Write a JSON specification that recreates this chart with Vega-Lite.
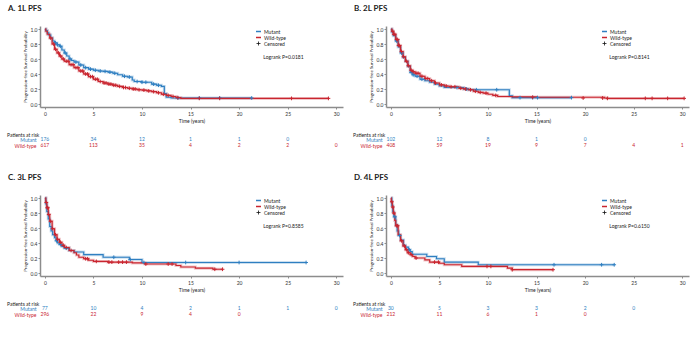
{
 "$schema": "https://vega.github.io/schema/vega-lite/v6.json",
 "padding": {"left": 7, "top": 5, "right": 5, "bottom": 5},
 "background": "white",
 "config": {
  "font": "Lato",
  "view": {"stroke": null},
  "axis": {"grid": false, "labelOverlap": false, "labelSeparation": -4, "domainColor": "#8c8c8c", "domainWidth": 1.5, "tickColor": "#8c8c8c", "tickSize": 2, "labelFontSize": 5, "labelColor": "#333333", "titleFontSize": 5, "titleFontWeight": "normal", "titleColor": "#222222"},
  "axisQuantitative": {"labelOverlap": false},
  "title": {"color": "#222222"},
  "legend": {"padding": 0}
 },
 "datasets": {
  "cA": [
   {"t":0,"s":1,"g":"Mutant"},{"t":0.1,"s":0.98,"g":"Mutant"},{"t":0.25,"s":0.95,"g":"Mutant"},{"t":0.4,"s":0.92,"g":"Mutant"},{"t":0.6,"s":0.88,"g":"Mutant"},{"t":0.8,"s":0.84,"g":"Mutant"},{"t":1.0,"s":0.815,"g":"Mutant"},{"t":1.25,"s":0.79,"g":"Mutant"},{"t":1.5,"s":0.77,"g":"Mutant"},{"t":1.75,"s":0.72,"g":"Mutant"},{"t":2.0,"s":0.68,"g":"Mutant"},{"t":2.25,"s":0.64,"g":"Mutant"},{"t":2.5,"s":0.6,"g":"Mutant"},{"t":2.75,"s":0.58,"g":"Mutant"},{"t":3.0,"s":0.56,"g":"Mutant"},{"t":3.5,"s":0.52,"g":"Mutant"},{"t":4.0,"s":0.485,"g":"Mutant"},{"t":4.5,"s":0.465,"g":"Mutant"},{"t":5.0,"s":0.45,"g":"Mutant"},{"t":5.5,"s":0.44,"g":"Mutant"},{"t":6.0,"s":0.435,"g":"Mutant"},{"t":6.5,"s":0.425,"g":"Mutant"},{"t":7.0,"s":0.41,"g":"Mutant"},{"t":7.5,"s":0.39,"g":"Mutant"},{"t":8.0,"s":0.37,"g":"Mutant"},{"t":8.5,"s":0.36,"g":"Mutant"},{"t":9.0,"s":0.32,"g":"Mutant"},{"t":9.2,"s":0.3,"g":"Mutant"},{"t":10.0,"s":0.29,"g":"Mutant"},{"t":11.0,"s":0.265,"g":"Mutant"},{"t":11.5,"s":0.25,"g":"Mutant"},{"t":12.0,"s":0.235,"g":"Mutant"},{"t":12.3,"s":0.14,"g":"Mutant"},{"t":12.5,"s":0.09,"g":"Mutant"},{"t":13.0,"s":0.08,"g":"Mutant"},{"t":21.3,"s":0.08,"g":"Mutant"},
   {"t":0,"s":1,"g":"Wild-type"},{"t":0.1,"s":0.97,"g":"Wild-type"},{"t":0.25,"s":0.93,"g":"Wild-type"},{"t":0.5,"s":0.88,"g":"Wild-type"},{"t":0.75,"s":0.8,"g":"Wild-type"},{"t":1.0,"s":0.73,"g":"Wild-type"},{"t":1.25,"s":0.68,"g":"Wild-type"},{"t":1.5,"s":0.64,"g":"Wild-type"},{"t":1.75,"s":0.6,"g":"Wild-type"},{"t":2.0,"s":0.57,"g":"Wild-type"},{"t":2.5,"s":0.525,"g":"Wild-type"},{"t":3.0,"s":0.485,"g":"Wild-type"},{"t":3.5,"s":0.44,"g":"Wild-type"},{"t":4.0,"s":0.4,"g":"Wild-type"},{"t":4.5,"s":0.365,"g":"Wild-type"},{"t":5.0,"s":0.33,"g":"Wild-type"},{"t":5.5,"s":0.3,"g":"Wild-type"},{"t":6.0,"s":0.28,"g":"Wild-type"},{"t":6.5,"s":0.265,"g":"Wild-type"},{"t":7.0,"s":0.25,"g":"Wild-type"},{"t":7.5,"s":0.235,"g":"Wild-type"},{"t":8.0,"s":0.22,"g":"Wild-type"},{"t":8.5,"s":0.21,"g":"Wild-type"},{"t":9.0,"s":0.2,"g":"Wild-type"},{"t":9.5,"s":0.19,"g":"Wild-type"},{"t":10.0,"s":0.185,"g":"Wild-type"},{"t":10.5,"s":0.175,"g":"Wild-type"},{"t":11.0,"s":0.165,"g":"Wild-type"},{"t":11.5,"s":0.15,"g":"Wild-type"},{"t":12.0,"s":0.13,"g":"Wild-type"},{"t":12.5,"s":0.115,"g":"Wild-type"},{"t":13.0,"s":0.1,"g":"Wild-type"},{"t":13.5,"s":0.085,"g":"Wild-type"},{"t":14.0,"s":0.075,"g":"Wild-type"},{"t":29.2,"s":0.075,"g":"Wild-type"}
  ],
  "xA": [
   {"t":1.1,"s":0.815,"g":"Mutant"},{"t":1.3,"s":0.79,"g":"Mutant"},{"t":1.6,"s":0.77,"g":"Mutant"},{"t":2.1,"s":0.68,"g":"Mutant"},{"t":2.6,"s":0.6,"g":"Mutant"},{"t":3.2,"s":0.56,"g":"Mutant"},{"t":3.7,"s":0.52,"g":"Mutant"},{"t":4.2,"s":0.485,"g":"Mutant"},{"t":4.7,"s":0.465,"g":"Mutant"},{"t":5.2,"s":0.45,"g":"Mutant"},{"t":5.7,"s":0.44,"g":"Mutant"},{"t":6.2,"s":0.435,"g":"Mutant"},{"t":6.7,"s":0.425,"g":"Mutant"},{"t":7.2,"s":0.41,"g":"Mutant"},{"t":8.2,"s":0.37,"g":"Mutant"},{"t":8.7,"s":0.36,"g":"Mutant"},{"t":9.5,"s":0.3,"g":"Mutant"},{"t":10.0,"s":0.29,"g":"Mutant"},{"t":10.4,"s":0.29,"g":"Mutant"},{"t":11.2,"s":0.265,"g":"Mutant"},{"t":11.7,"s":0.25,"g":"Mutant"},{"t":13.7,"s":0.08,"g":"Mutant"},{"t":15.9,"s":0.08,"g":"Mutant"},{"t":18.0,"s":0.08,"g":"Mutant"},{"t":21.3,"s":0.08,"g":"Mutant"},
   {"t":0.6,"s":0.88,"g":"Wild-type"},{"t":0.9,"s":0.8,"g":"Wild-type"},{"t":1.1,"s":0.73,"g":"Wild-type"},{"t":1.4,"s":0.68,"g":"Wild-type"},{"t":1.6,"s":0.64,"g":"Wild-type"},{"t":1.9,"s":0.6,"g":"Wild-type"},{"t":2.2,"s":0.57,"g":"Wild-type"},{"t":2.4,"s":0.57,"g":"Wild-type"},{"t":2.7,"s":0.525,"g":"Wild-type"},{"t":2.9,"s":0.525,"g":"Wild-type"},{"t":3.2,"s":0.485,"g":"Wild-type"},{"t":3.4,"s":0.485,"g":"Wild-type"},{"t":3.7,"s":0.44,"g":"Wild-type"},{"t":3.9,"s":0.44,"g":"Wild-type"},{"t":4.2,"s":0.4,"g":"Wild-type"},{"t":4.4,"s":0.4,"g":"Wild-type"},{"t":4.7,"s":0.365,"g":"Wild-type"},{"t":4.9,"s":0.365,"g":"Wild-type"},{"t":5.2,"s":0.33,"g":"Wild-type"},{"t":5.4,"s":0.33,"g":"Wild-type"},{"t":5.7,"s":0.3,"g":"Wild-type"},{"t":6.1,"s":0.28,"g":"Wild-type"},{"t":6.3,"s":0.28,"g":"Wild-type"},{"t":6.6,"s":0.265,"g":"Wild-type"},{"t":6.8,"s":0.265,"g":"Wild-type"},{"t":7.1,"s":0.25,"g":"Wild-type"},{"t":7.3,"s":0.25,"g":"Wild-type"},{"t":7.7,"s":0.235,"g":"Wild-type"},{"t":8.1,"s":0.22,"g":"Wild-type"},{"t":8.3,"s":0.22,"g":"Wild-type"},{"t":8.7,"s":0.21,"g":"Wild-type"},{"t":9.1,"s":0.2,"g":"Wild-type"},{"t":9.3,"s":0.2,"g":"Wild-type"},{"t":9.7,"s":0.19,"g":"Wild-type"},{"t":10.2,"s":0.185,"g":"Wild-type"},{"t":10.7,"s":0.175,"g":"Wild-type"},{"t":11.2,"s":0.165,"g":"Wild-type"},{"t":11.7,"s":0.15,"g":"Wild-type"},{"t":12.2,"s":0.13,"g":"Wild-type"},{"t":12.7,"s":0.115,"g":"Wild-type"},{"t":13.2,"s":0.1,"g":"Wild-type"},{"t":13.7,"s":0.085,"g":"Wild-type"},{"t":15.9,"s":0.075,"g":"Wild-type"},{"t":18.0,"s":0.075,"g":"Wild-type"},{"t":25.4,"s":0.075,"g":"Wild-type"},{"t":29.2,"s":0.075,"g":"Wild-type"}
  ],
  "rA": [
   {"t":0,"g":"Mutant","n":176},{"t":5,"g":"Mutant","n":34},{"t":10,"g":"Mutant","n":12},{"t":15,"g":"Mutant","n":1},{"t":20,"g":"Mutant","n":1},{"t":25,"g":"Mutant","n":0},
   {"t":0,"g":"Wild-type","n":617},{"t":5,"g":"Wild-type","n":113},{"t":10,"g":"Wild-type","n":35},{"t":15,"g":"Wild-type","n":4},{"t":20,"g":"Wild-type","n":2},{"t":25,"g":"Wild-type","n":2},{"t":30,"g":"Wild-type","n":0}
  ],
  "cB": [
   {"t":0,"s":1,"g":"Mutant"},{"t":0.1,"s":0.96,"g":"Mutant"},{"t":0.25,"s":0.91,"g":"Mutant"},{"t":0.5,"s":0.84,"g":"Mutant"},{"t":0.75,"s":0.76,"g":"Mutant"},{"t":1.0,"s":0.68,"g":"Mutant"},{"t":1.25,"s":0.62,"g":"Mutant"},{"t":1.5,"s":0.57,"g":"Mutant"},{"t":1.75,"s":0.5,"g":"Mutant"},{"t":2.0,"s":0.42,"g":"Mutant"},{"t":2.25,"s":0.39,"g":"Mutant"},{"t":2.5,"s":0.37,"g":"Mutant"},{"t":3.0,"s":0.33,"g":"Mutant"},{"t":3.5,"s":0.31,"g":"Mutant"},{"t":4.0,"s":0.29,"g":"Mutant"},{"t":4.5,"s":0.265,"g":"Mutant"},{"t":5.0,"s":0.24,"g":"Mutant"},{"t":5.5,"s":0.22,"g":"Mutant"},{"t":7.5,"s":0.2,"g":"Mutant"},{"t":8.0,"s":0.19,"g":"Mutant"},{"t":12.2,"s":0.11,"g":"Mutant"},{"t":12.5,"s":0.085,"g":"Mutant"},{"t":18.6,"s":0.085,"g":"Mutant"},
   {"t":0,"s":1,"g":"Wild-type"},{"t":0.1,"s":0.97,"g":"Wild-type"},{"t":0.25,"s":0.93,"g":"Wild-type"},{"t":0.5,"s":0.86,"g":"Wild-type"},{"t":0.75,"s":0.78,"g":"Wild-type"},{"t":1.0,"s":0.7,"g":"Wild-type"},{"t":1.25,"s":0.63,"g":"Wild-type"},{"t":1.5,"s":0.57,"g":"Wild-type"},{"t":1.75,"s":0.51,"g":"Wild-type"},{"t":2.0,"s":0.45,"g":"Wild-type"},{"t":2.25,"s":0.43,"g":"Wild-type"},{"t":2.5,"s":0.41,"g":"Wild-type"},{"t":3.0,"s":0.37,"g":"Wild-type"},{"t":3.5,"s":0.34,"g":"Wild-type"},{"t":4.0,"s":0.31,"g":"Wild-type"},{"t":4.5,"s":0.28,"g":"Wild-type"},{"t":5.0,"s":0.255,"g":"Wild-type"},{"t":5.5,"s":0.24,"g":"Wild-type"},{"t":6.0,"s":0.23,"g":"Wild-type"},{"t":7.0,"s":0.21,"g":"Wild-type"},{"t":7.5,"s":0.2,"g":"Wild-type"},{"t":8.0,"s":0.19,"g":"Wild-type"},{"t":8.5,"s":0.17,"g":"Wild-type"},{"t":9.0,"s":0.155,"g":"Wild-type"},{"t":9.5,"s":0.145,"g":"Wild-type"},{"t":10.0,"s":0.13,"g":"Wild-type"},{"t":10.5,"s":0.115,"g":"Wild-type"},{"t":11.0,"s":0.1,"g":"Wild-type"},{"t":12.5,"s":0.095,"g":"Wild-type"},{"t":15.0,"s":0.09,"g":"Wild-type"},{"t":22.0,"s":0.08,"g":"Wild-type"},{"t":22.3,"s":0.075,"g":"Wild-type"},{"t":30.2,"s":0.075,"g":"Wild-type"}
  ],
  "xB": [
   {"t":0.6,"s":0.84,"g":"Mutant"},{"t":1.1,"s":0.68,"g":"Mutant"},{"t":2.1,"s":0.42,"g":"Mutant"},{"t":2.3,"s":0.39,"g":"Mutant"},{"t":2.7,"s":0.37,"g":"Mutant"},{"t":3.2,"s":0.33,"g":"Mutant"},{"t":6.8,"s":0.22,"g":"Mutant"},{"t":7.8,"s":0.2,"g":"Mutant"},{"t":8.8,"s":0.19,"g":"Mutant"},{"t":10.9,"s":0.19,"g":"Mutant"},{"t":13.3,"s":0.085,"g":"Mutant"},{"t":14.6,"s":0.085,"g":"Mutant"},{"t":15.1,"s":0.085,"g":"Mutant"},{"t":18.6,"s":0.085,"g":"Mutant"},
   {"t":0.2,"s":0.97,"g":"Wild-type"},{"t":0.3,"s":0.93,"g":"Wild-type"},{"t":0.4,"s":0.93,"g":"Wild-type"},{"t":0.6,"s":0.86,"g":"Wild-type"},{"t":0.7,"s":0.86,"g":"Wild-type"},{"t":0.8,"s":0.78,"g":"Wild-type"},{"t":0.9,"s":0.78,"g":"Wild-type"},{"t":1.1,"s":0.7,"g":"Wild-type"},{"t":1.3,"s":0.63,"g":"Wild-type"},{"t":1.6,"s":0.57,"g":"Wild-type"},{"t":1.8,"s":0.51,"g":"Wild-type"},{"t":2.1,"s":0.45,"g":"Wild-type"},{"t":2.3,"s":0.43,"g":"Wild-type"},{"t":2.6,"s":0.41,"g":"Wild-type"},{"t":2.8,"s":0.41,"g":"Wild-type"},{"t":3.2,"s":0.37,"g":"Wild-type"},{"t":3.6,"s":0.34,"g":"Wild-type"},{"t":3.8,"s":0.34,"g":"Wild-type"},{"t":4.2,"s":0.31,"g":"Wild-type"},{"t":4.6,"s":0.28,"g":"Wild-type"},{"t":5.2,"s":0.255,"g":"Wild-type"},{"t":5.7,"s":0.24,"g":"Wild-type"},{"t":6.2,"s":0.23,"g":"Wild-type"},{"t":6.6,"s":0.23,"g":"Wild-type"},{"t":7.2,"s":0.21,"g":"Wild-type"},{"t":7.7,"s":0.2,"g":"Wild-type"},{"t":8.2,"s":0.19,"g":"Wild-type"},{"t":8.7,"s":0.17,"g":"Wild-type"},{"t":9.2,"s":0.155,"g":"Wild-type"},{"t":9.8,"s":0.145,"g":"Wild-type"},{"t":10.8,"s":0.115,"g":"Wild-type"},{"t":14.6,"s":0.09,"g":"Wild-type"},{"t":19.8,"s":0.08,"g":"Wild-type"},{"t":21.8,"s":0.08,"g":"Wild-type"},{"t":22.3,"s":0.075,"g":"Wild-type"},{"t":26.2,"s":0.075,"g":"Wild-type"},{"t":26.9,"s":0.075,"g":"Wild-type"},{"t":28.5,"s":0.075,"g":"Wild-type"},{"t":30.2,"s":0.075,"g":"Wild-type"}
  ],
  "rB": [
   {"t":0,"g":"Mutant","n":102},{"t":5,"g":"Mutant","n":12},{"t":10,"g":"Mutant","n":8},{"t":15,"g":"Mutant","n":1},{"t":20,"g":"Mutant","n":0},
   {"t":0,"g":"Wild-type","n":408},{"t":5,"g":"Wild-type","n":59},{"t":10,"g":"Wild-type","n":19},{"t":15,"g":"Wild-type","n":9},{"t":20,"g":"Wild-type","n":7},{"t":25,"g":"Wild-type","n":4},{"t":30,"g":"Wild-type","n":1}
  ],
  "cC": [
   {"t":0,"s":1,"g":"Mutant"},{"t":0.1,"s":0.92,"g":"Mutant"},{"t":0.2,"s":0.82,"g":"Mutant"},{"t":0.35,"s":0.72,"g":"Mutant"},{"t":0.5,"s":0.62,"g":"Mutant"},{"t":0.65,"s":0.56,"g":"Mutant"},{"t":0.8,"s":0.51,"g":"Mutant"},{"t":1.0,"s":0.47,"g":"Mutant"},{"t":1.15,"s":0.43,"g":"Mutant"},{"t":1.3,"s":0.4,"g":"Mutant"},{"t":1.5,"s":0.38,"g":"Mutant"},{"t":1.75,"s":0.355,"g":"Mutant"},{"t":2.0,"s":0.33,"g":"Mutant"},{"t":2.5,"s":0.3,"g":"Mutant"},{"t":3.0,"s":0.28,"g":"Mutant"},{"t":4.0,"s":0.245,"g":"Mutant"},{"t":6.0,"s":0.21,"g":"Mutant"},{"t":8.7,"s":0.18,"g":"Mutant"},{"t":10.0,"s":0.14,"g":"Mutant"},{"t":26.9,"s":0.14,"g":"Mutant"},
   {"t":0,"s":1,"g":"Wild-type"},{"t":0.1,"s":0.94,"g":"Wild-type"},{"t":0.2,"s":0.87,"g":"Wild-type"},{"t":0.35,"s":0.78,"g":"Wild-type"},{"t":0.5,"s":0.69,"g":"Wild-type"},{"t":0.75,"s":0.59,"g":"Wild-type"},{"t":1.0,"s":0.51,"g":"Wild-type"},{"t":1.25,"s":0.45,"g":"Wild-type"},{"t":1.5,"s":0.41,"g":"Wild-type"},{"t":1.75,"s":0.37,"g":"Wild-type"},{"t":2.0,"s":0.34,"g":"Wild-type"},{"t":2.5,"s":0.3,"g":"Wild-type"},{"t":3.0,"s":0.27,"g":"Wild-type"},{"t":3.25,"s":0.24,"g":"Wild-type"},{"t":3.5,"s":0.21,"g":"Wild-type"},{"t":4.0,"s":0.19,"g":"Wild-type"},{"t":4.5,"s":0.17,"g":"Wild-type"},{"t":5.0,"s":0.155,"g":"Wild-type"},{"t":6.5,"s":0.145,"g":"Wild-type"},{"t":9.0,"s":0.135,"g":"Wild-type"},{"t":10.3,"s":0.12,"g":"Wild-type"},{"t":13.5,"s":0.1,"g":"Wild-type"},{"t":14.0,"s":0.08,"g":"Wild-type"},{"t":15.5,"s":0.065,"g":"Wild-type"},{"t":17.3,"s":0.05,"g":"Wild-type"},{"t":18.3,"s":0.05,"g":"Wild-type"}
  ],
  "xC": [
   {"t":1.2,"s":0.43,"g":"Mutant"},{"t":1.6,"s":0.38,"g":"Mutant"},{"t":2.2,"s":0.33,"g":"Mutant"},{"t":7.1,"s":0.21,"g":"Mutant"},{"t":8.8,"s":0.18,"g":"Mutant"},{"t":10.2,"s":0.14,"g":"Mutant"},{"t":14.5,"s":0.14,"g":"Mutant"},{"t":20.0,"s":0.14,"g":"Mutant"},{"t":26.9,"s":0.14,"g":"Mutant"},
   {"t":0.15,"s":0.94,"g":"Wild-type"},{"t":0.25,"s":0.87,"g":"Wild-type"},{"t":0.3,"s":0.87,"g":"Wild-type"},{"t":0.4,"s":0.78,"g":"Wild-type"},{"t":0.6,"s":0.69,"g":"Wild-type"},{"t":0.8,"s":0.59,"g":"Wild-type"},{"t":1.1,"s":0.51,"g":"Wild-type"},{"t":1.3,"s":0.45,"g":"Wild-type"},{"t":1.6,"s":0.41,"g":"Wild-type"},{"t":1.9,"s":0.37,"g":"Wild-type"},{"t":2.2,"s":0.34,"g":"Wild-type"},{"t":2.7,"s":0.3,"g":"Wild-type"},{"t":4.2,"s":0.19,"g":"Wild-type"},{"t":4.4,"s":0.19,"g":"Wild-type"},{"t":5.3,"s":0.155,"g":"Wild-type"},{"t":6.6,"s":0.145,"g":"Wild-type"},{"t":6.9,"s":0.145,"g":"Wild-type"},{"t":7.6,"s":0.145,"g":"Wild-type"},{"t":8.0,"s":0.145,"g":"Wild-type"},{"t":8.4,"s":0.145,"g":"Wild-type"},{"t":10.4,"s":0.12,"g":"Wild-type"},{"t":12.7,"s":0.12,"g":"Wild-type"},{"t":13.1,"s":0.12,"g":"Wild-type"},{"t":17.5,"s":0.05,"g":"Wild-type"},{"t":18.3,"s":0.05,"g":"Wild-type"}
  ],
  "rC": [
   {"t":0,"g":"Mutant","n":77},{"t":5,"g":"Mutant","n":10},{"t":10,"g":"Mutant","n":4},{"t":15,"g":"Mutant","n":2},{"t":20,"g":"Mutant","n":1},{"t":25,"g":"Mutant","n":1},{"t":30,"g":"Mutant","n":0},
   {"t":0,"g":"Wild-type","n":296},{"t":5,"g":"Wild-type","n":22},{"t":10,"g":"Wild-type","n":9},{"t":15,"g":"Wild-type","n":4},{"t":20,"g":"Wild-type","n":0}
  ],
  "cD": [
   {"t":0,"s":1,"g":"Mutant"},{"t":0.1,"s":0.9,"g":"Mutant"},{"t":0.2,"s":0.82,"g":"Mutant"},{"t":0.3,"s":0.75,"g":"Mutant"},{"t":0.5,"s":0.64,"g":"Mutant"},{"t":0.65,"s":0.56,"g":"Mutant"},{"t":0.8,"s":0.5,"g":"Mutant"},{"t":1.0,"s":0.44,"g":"Mutant"},{"t":1.3,"s":0.37,"g":"Mutant"},{"t":1.5,"s":0.345,"g":"Mutant"},{"t":1.8,"s":0.31,"g":"Mutant"},{"t":2.0,"s":0.285,"g":"Mutant"},{"t":2.2,"s":0.25,"g":"Mutant"},{"t":3.7,"s":0.22,"g":"Mutant"},{"t":4.7,"s":0.19,"g":"Mutant"},{"t":5.5,"s":0.145,"g":"Mutant"},{"t":9.0,"s":0.11,"g":"Mutant"},{"t":23.0,"s":0.11,"g":"Mutant"},
   {"t":0,"s":1,"g":"Wild-type"},{"t":0.05,"s":0.95,"g":"Wild-type"},{"t":0.15,"s":0.88,"g":"Wild-type"},{"t":0.25,"s":0.8,"g":"Wild-type"},{"t":0.4,"s":0.7,"g":"Wild-type"},{"t":0.5,"s":0.63,"g":"Wild-type"},{"t":0.75,"s":0.51,"g":"Wild-type"},{"t":1.0,"s":0.43,"g":"Wild-type"},{"t":1.25,"s":0.36,"g":"Wild-type"},{"t":1.5,"s":0.31,"g":"Wild-type"},{"t":1.75,"s":0.27,"g":"Wild-type"},{"t":2.0,"s":0.245,"g":"Wild-type"},{"t":2.25,"s":0.22,"g":"Wild-type"},{"t":2.5,"s":0.2,"g":"Wild-type"},{"t":3.5,"s":0.175,"g":"Wild-type"},{"t":4.0,"s":0.145,"g":"Wild-type"},{"t":5.0,"s":0.13,"g":"Wild-type"},{"t":5.5,"s":0.11,"g":"Wild-type"},{"t":7.3,"s":0.088,"g":"Wild-type"},{"t":12.0,"s":0.066,"g":"Wild-type"},{"t":12.5,"s":0.044,"g":"Wild-type"},{"t":16.7,"s":0.044,"g":"Wild-type"}
  ],
  "xD": [
   {"t":0.4,"s":0.75,"g":"Mutant"},{"t":0.9,"s":0.5,"g":"Mutant"},{"t":1.9,"s":0.31,"g":"Mutant"},{"t":16.8,"s":0.11,"g":"Mutant"},{"t":21.7,"s":0.11,"g":"Mutant"},{"t":23.0,"s":0.11,"g":"Mutant"},
   {"t":0.1,"s":0.95,"g":"Wild-type"},{"t":0.2,"s":0.88,"g":"Wild-type"},{"t":0.3,"s":0.8,"g":"Wild-type"},{"t":0.6,"s":0.63,"g":"Wild-type"},{"t":0.7,"s":0.63,"g":"Wild-type"},{"t":1.1,"s":0.43,"g":"Wild-type"},{"t":1.4,"s":0.36,"g":"Wild-type"},{"t":1.6,"s":0.31,"g":"Wild-type"},{"t":1.8,"s":0.27,"g":"Wild-type"},{"t":2.1,"s":0.245,"g":"Wild-type"},{"t":2.6,"s":0.2,"g":"Wild-type"},{"t":4.5,"s":0.145,"g":"Wild-type"},{"t":4.9,"s":0.145,"g":"Wild-type"},{"t":9.9,"s":0.088,"g":"Wild-type"},{"t":10.3,"s":0.088,"g":"Wild-type"},{"t":12.5,"s":0.044,"g":"Wild-type"},{"t":16.7,"s":0.044,"g":"Wild-type"}
  ],
  "rD": [
   {"t":0,"g":"Mutant","n":30},{"t":5,"g":"Mutant","n":5},{"t":10,"g":"Mutant","n":3},{"t":15,"g":"Mutant","n":3},{"t":20,"g":"Mutant","n":2},{"t":25,"g":"Mutant","n":0},
   {"t":0,"g":"Wild-type","n":212},{"t":5,"g":"Wild-type","n":11},{"t":10,"g":"Wild-type","n":6},{"t":15,"g":"Wild-type","n":1},{"t":20,"g":"Wild-type","n":0}
  ]
 },
 "spacing": 26,
 "resolve": {"scale": {"color": "independent"}},
 "vconcat": [
  {
   "hconcat": [
    {
     "spacing": 10,
     "resolve": {"scale": {"color": "independent"}},
     "vconcat": [
      {
       "title": {"text": "A. 1L PFS", "anchor": "start", "frame": "group", "dx": -32, "fontSize": 8, "fontWeight": "bold", "offset": 10},
       "width": 303, "height": 81,
       "layer": [
        {"data": {"name": "cA"}, "mark": {"type": "line", "interpolate": "step-after", "strokeWidth": 3, "opacity": 0.25},
         "encoding": {"x": {"field": "t", "type": "quantitative", "scale": {"domain": [-0.5, 30.7], "nice": false, "zero": false}, "axis": {"values": [0,5,10,15,20,25,30], "title": "Time (years)", "labelPadding": 2, "titlePadding": 2}},
                      "y": {"field": "s", "type": "quantitative", "scale": {"domain": [-0.04, 1.04], "nice": false, "zero": false}, "axis": {"tickCount": 6, "format": ".1f", "labelOverlap": false, "title": "Progression-free Survival Probability", "titleFontSize": 4.5, "labelPadding": 1, "titlePadding": 3}},
                      "color": {"field": "g", "type": "nominal", "scale": {"domain": ["Mutant","Wild-type","Censored"], "range": ["#2f7fc1","#c9252f","#111111"]}}}},
        {"data": {"name": "cA"}, "mark": {"type": "line", "interpolate": "step-after", "strokeWidth": 1.2},
         "encoding": {"x": {"field": "t", "type": "quantitative"}, "y": {"field": "s", "type": "quantitative"},
                      "color": {"field": "g", "type": "nominal", "legend": {"orient": "none", "legendX": 216, "legendY": 3, "title": null, "labelFontSize": 5, "labelColor": "#222222", "symbolSize": 25, "symbolStrokeWidth": 1.5, "symbolOpacity": 1, "rowPadding": -2, "labelOffset": 3,
                        "encode": {"symbols": {"update": {"fill": {"value": "transparent"}, "strokeWidth": {"signal": "datum.value === 'Censored' ? 0.8 : 1.5"}, "shape": {"signal": "datum.value === 'Censored' ? 'M-1,0H1M0,-1V1' : 'stroke'"}, "size": {"signal": "datum.value === 'Censored' ? 16 : 25"}}}}}}}},
        {"data": {"name": "xA"}, "mark": {"type": "point", "shape": "M-1,0H1M0,-1V1", "size": 14, "strokeWidth": 1, "filled": false, "opacity": 1},
         "encoding": {"x": {"field": "t", "type": "quantitative"}, "y": {"field": "s", "type": "quantitative"}, "color": {"field": "g", "type": "nominal"}}},
        {"data": {"values": [{}]}, "mark": {"type": "text", "fontSize": 5, "align": "left", "color": "#222222"},
         "encoding": {"x": {"datum": 22.5}, "y": {"datum": 0.63}, "text": {"value": "Logrank P=0.0181"}}}
       ]
      },
      {
       "title": {"text": "Patients at risk", "anchor": "start", "frame": "group", "dx": -33, "fontSize": 5, "fontWeight": "normal", "offset": -2},
       "width": 303, "height": 12,
       "data": {"name": "rA"},
       "mark": {"type": "text", "fontSize": 5},
       "encoding": {
        "x": {"field": "t", "type": "quantitative", "scale": {"domain": [-0.5, 30.7], "nice": false, "zero": false}, "axis": null},
        "y": {"field": "g", "type": "nominal", "scale": {"domain": ["Mutant","Wild-type"]}, "axis": {"title": null, "domain": false, "ticks": false, "labelFontSize": 5, "labelPadding": 4, "labelColor": {"condition": {"test": "datum.value == 'Mutant'", "value": "#2f7fc1"}, "value": "#c9252f"}}},
        "text": {"field": "n", "type": "quantitative"},
        "color": {"field": "g", "type": "nominal", "scale": {"domain": ["Mutant","Wild-type"], "range": ["#2f7fc1","#c9252f"]}, "legend": null}
       }
      }
     ]
    },
    {
     "spacing": 10,
     "resolve": {"scale": {"color": "independent"}},
     "vconcat": [
      {
       "title": {"text": "B. 2L PFS", "anchor": "start", "frame": "group", "dx": -32, "fontSize": 8, "fontWeight": "bold", "offset": 10},
       "width": 303, "height": 81,
       "layer": [
        {"data": {"name": "cB"}, "mark": {"type": "line", "interpolate": "step-after", "strokeWidth": 3, "opacity": 0.25},
         "encoding": {"x": {"field": "t", "type": "quantitative", "scale": {"domain": [-0.5, 30.7], "nice": false, "zero": false}, "axis": {"values": [0,5,10,15,20,25,30], "title": "Time (years)", "labelPadding": 2, "titlePadding": 2}},
                      "y": {"field": "s", "type": "quantitative", "scale": {"domain": [-0.04, 1.04], "nice": false, "zero": false}, "axis": {"tickCount": 6, "format": ".1f", "labelOverlap": false, "title": "Progression-free Survival Probability", "titleFontSize": 4.5, "labelPadding": 1, "titlePadding": 3}},
                      "color": {"field": "g", "type": "nominal", "scale": {"domain": ["Mutant","Wild-type","Censored"], "range": ["#2f7fc1","#c9252f","#111111"]}}}},
        {"data": {"name": "cB"}, "mark": {"type": "line", "interpolate": "step-after", "strokeWidth": 1.2},
         "encoding": {"x": {"field": "t", "type": "quantitative"}, "y": {"field": "s", "type": "quantitative"},
                      "color": {"field": "g", "type": "nominal", "legend": {"orient": "none", "legendX": 216, "legendY": 3, "title": null, "labelFontSize": 5, "labelColor": "#222222", "symbolSize": 25, "symbolStrokeWidth": 1.5, "symbolOpacity": 1, "rowPadding": -2, "labelOffset": 3,
                        "encode": {"symbols": {"update": {"fill": {"value": "transparent"}, "strokeWidth": {"signal": "datum.value === 'Censored' ? 0.8 : 1.5"}, "shape": {"signal": "datum.value === 'Censored' ? 'M-1,0H1M0,-1V1' : 'stroke'"}, "size": {"signal": "datum.value === 'Censored' ? 16 : 25"}}}}}}}},
        {"data": {"name": "xB"}, "mark": {"type": "point", "shape": "M-1,0H1M0,-1V1", "size": 14, "strokeWidth": 1, "filled": false, "opacity": 1},
         "encoding": {"x": {"field": "t", "type": "quantitative"}, "y": {"field": "s", "type": "quantitative"}, "color": {"field": "g", "type": "nominal"}}},
        {"data": {"values": [{}]}, "mark": {"type": "text", "fontSize": 5, "align": "left", "color": "#222222"},
         "encoding": {"x": {"datum": 22.5}, "y": {"datum": 0.63}, "text": {"value": "Logrank P=0.8141"}}}
       ]
      },
      {
       "title": {"text": "Patients at risk", "anchor": "start", "frame": "group", "dx": -33, "fontSize": 5, "fontWeight": "normal", "offset": -2},
       "width": 303, "height": 12,
       "data": {"name": "rB"},
       "mark": {"type": "text", "fontSize": 5},
       "encoding": {
        "x": {"field": "t", "type": "quantitative", "scale": {"domain": [-0.5, 30.7], "nice": false, "zero": false}, "axis": null},
        "y": {"field": "g", "type": "nominal", "scale": {"domain": ["Mutant","Wild-type"]}, "axis": {"title": null, "domain": false, "ticks": false, "labelFontSize": 5, "labelPadding": 4, "labelColor": {"condition": {"test": "datum.value == 'Mutant'", "value": "#2f7fc1"}, "value": "#c9252f"}}},
        "text": {"field": "n", "type": "quantitative"},
        "color": {"field": "g", "type": "nominal", "scale": {"domain": ["Mutant","Wild-type"], "range": ["#2f7fc1","#c9252f"]}, "legend": null}
       }
      }
     ]
    }
   ],
   "spacing": 10,
   "resolve": {"scale": {"color": "independent"}}
  },
  {
   "hconcat": [
    {
     "spacing": 10,
     "resolve": {"scale": {"color": "independent"}},
     "vconcat": [
      {
       "title": {"text": "C. 3L PFS", "anchor": "start", "frame": "group", "dx": -32, "fontSize": 8, "fontWeight": "bold", "offset": 10},
       "width": 303, "height": 81,
       "layer": [
        {"data": {"name": "cC"}, "mark": {"type": "line", "interpolate": "step-after", "strokeWidth": 3, "opacity": 0.25},
         "encoding": {"x": {"field": "t", "type": "quantitative", "scale": {"domain": [-0.5, 30.7], "nice": false, "zero": false}, "axis": {"values": [0,5,10,15,20,25,30], "title": "Time (years)", "labelPadding": 2, "titlePadding": 2}},
                      "y": {"field": "s", "type": "quantitative", "scale": {"domain": [-0.04, 1.04], "nice": false, "zero": false}, "axis": {"tickCount": 6, "format": ".1f", "labelOverlap": false, "title": "Progression-free Survival Probability", "titleFontSize": 4.5, "labelPadding": 1, "titlePadding": 3}},
                      "color": {"field": "g", "type": "nominal", "scale": {"domain": ["Mutant","Wild-type","Censored"], "range": ["#2f7fc1","#c9252f","#111111"]}}}},
        {"data": {"name": "cC"}, "mark": {"type": "line", "interpolate": "step-after", "strokeWidth": 1.2},
         "encoding": {"x": {"field": "t", "type": "quantitative"}, "y": {"field": "s", "type": "quantitative"},
                      "color": {"field": "g", "type": "nominal", "legend": {"orient": "none", "legendX": 216, "legendY": 3, "title": null, "labelFontSize": 5, "labelColor": "#222222", "symbolSize": 25, "symbolStrokeWidth": 1.5, "symbolOpacity": 1, "rowPadding": -2, "labelOffset": 3,
                        "encode": {"symbols": {"update": {"fill": {"value": "transparent"}, "strokeWidth": {"signal": "datum.value === 'Censored' ? 0.8 : 1.5"}, "shape": {"signal": "datum.value === 'Censored' ? 'M-1,0H1M0,-1V1' : 'stroke'"}, "size": {"signal": "datum.value === 'Censored' ? 16 : 25"}}}}}}}},
        {"data": {"name": "xC"}, "mark": {"type": "point", "shape": "M-1,0H1M0,-1V1", "size": 14, "strokeWidth": 1, "filled": false, "opacity": 1},
         "encoding": {"x": {"field": "t", "type": "quantitative"}, "y": {"field": "s", "type": "quantitative"}, "color": {"field": "g", "type": "nominal"}}},
        {"data": {"values": [{}]}, "mark": {"type": "text", "fontSize": 5, "align": "left", "color": "#222222"},
         "encoding": {"x": {"datum": 22.5}, "y": {"datum": 0.63}, "text": {"value": "Logrank P=0.8585"}}}
       ]
      },
      {
       "title": {"text": "Patients at risk", "anchor": "start", "frame": "group", "dx": -33, "fontSize": 5, "fontWeight": "normal", "offset": -2},
       "width": 303, "height": 12,
       "data": {"name": "rC"},
       "mark": {"type": "text", "fontSize": 5},
       "encoding": {
        "x": {"field": "t", "type": "quantitative", "scale": {"domain": [-0.5, 30.7], "nice": false, "zero": false}, "axis": null},
        "y": {"field": "g", "type": "nominal", "scale": {"domain": ["Mutant","Wild-type"]}, "axis": {"title": null, "domain": false, "ticks": false, "labelFontSize": 5, "labelPadding": 4, "labelColor": {"condition": {"test": "datum.value == 'Mutant'", "value": "#2f7fc1"}, "value": "#c9252f"}}},
        "text": {"field": "n", "type": "quantitative"},
        "color": {"field": "g", "type": "nominal", "scale": {"domain": ["Mutant","Wild-type"], "range": ["#2f7fc1","#c9252f"]}, "legend": null}
       }
      }
     ]
    },
    {
     "spacing": 10,
     "resolve": {"scale": {"color": "independent"}},
     "vconcat": [
      {
       "title": {"text": "D. 4L PFS", "anchor": "start", "frame": "group", "dx": -32, "fontSize": 8, "fontWeight": "bold", "offset": 10},
       "width": 303, "height": 81,
       "layer": [
        {"data": {"name": "cD"}, "mark": {"type": "line", "interpolate": "step-after", "strokeWidth": 3, "opacity": 0.25},
         "encoding": {"x": {"field": "t", "type": "quantitative", "scale": {"domain": [-0.5, 30.7], "nice": false, "zero": false}, "axis": {"values": [0,5,10,15,20,25,30], "title": "Time (years)", "labelPadding": 2, "titlePadding": 2}},
                      "y": {"field": "s", "type": "quantitative", "scale": {"domain": [-0.04, 1.04], "nice": false, "zero": false}, "axis": {"tickCount": 6, "format": ".1f", "labelOverlap": false, "title": "Progression-free Survival Probability", "titleFontSize": 4.5, "labelPadding": 1, "titlePadding": 3}},
                      "color": {"field": "g", "type": "nominal", "scale": {"domain": ["Mutant","Wild-type","Censored"], "range": ["#2f7fc1","#c9252f","#111111"]}}}},
        {"data": {"name": "cD"}, "mark": {"type": "line", "interpolate": "step-after", "strokeWidth": 1.2},
         "encoding": {"x": {"field": "t", "type": "quantitative"}, "y": {"field": "s", "type": "quantitative"},
                      "color": {"field": "g", "type": "nominal", "legend": {"orient": "none", "legendX": 216, "legendY": 3, "title": null, "labelFontSize": 5, "labelColor": "#222222", "symbolSize": 25, "symbolStrokeWidth": 1.5, "symbolOpacity": 1, "rowPadding": -2, "labelOffset": 3,
                        "encode": {"symbols": {"update": {"fill": {"value": "transparent"}, "strokeWidth": {"signal": "datum.value === 'Censored' ? 0.8 : 1.5"}, "shape": {"signal": "datum.value === 'Censored' ? 'M-1,0H1M0,-1V1' : 'stroke'"}, "size": {"signal": "datum.value === 'Censored' ? 16 : 25"}}}}}}}},
        {"data": {"name": "xD"}, "mark": {"type": "point", "shape": "M-1,0H1M0,-1V1", "size": 14, "strokeWidth": 1, "filled": false, "opacity": 1},
         "encoding": {"x": {"field": "t", "type": "quantitative"}, "y": {"field": "s", "type": "quantitative"}, "color": {"field": "g", "type": "nominal"}}},
        {"data": {"values": [{}]}, "mark": {"type": "text", "fontSize": 5, "align": "left", "color": "#222222"},
         "encoding": {"x": {"datum": 22.5}, "y": {"datum": 0.63}, "text": {"value": "Logrank P=0.6150"}}}
       ]
      },
      {
       "title": {"text": "Patients at risk", "anchor": "start", "frame": "group", "dx": -33, "fontSize": 5, "fontWeight": "normal", "offset": -2},
       "width": 303, "height": 12,
       "data": {"name": "rD"},
       "mark": {"type": "text", "fontSize": 5},
       "encoding": {
        "x": {"field": "t", "type": "quantitative", "scale": {"domain": [-0.5, 30.7], "nice": false, "zero": false}, "axis": null},
        "y": {"field": "g", "type": "nominal", "scale": {"domain": ["Mutant","Wild-type"]}, "axis": {"title": null, "domain": false, "ticks": false, "labelFontSize": 5, "labelPadding": 4, "labelColor": {"condition": {"test": "datum.value == 'Mutant'", "value": "#2f7fc1"}, "value": "#c9252f"}}},
        "text": {"field": "n", "type": "quantitative"},
        "color": {"field": "g", "type": "nominal", "scale": {"domain": ["Mutant","Wild-type"], "range": ["#2f7fc1","#c9252f"]}, "legend": null}
       }
      }
     ]
    }
   ],
   "spacing": 10,
   "resolve": {"scale": {"color": "independent"}}
  }
 ]
}
